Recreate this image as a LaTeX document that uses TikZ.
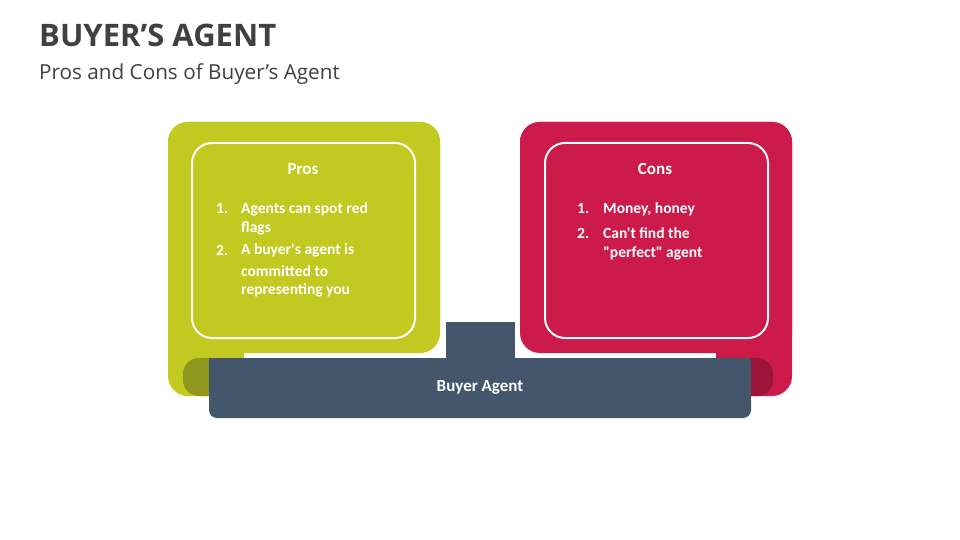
\documentclass[tikz,border=0pt]{standalone}
\usepackage{fontspec}
\setmainfont{Carlito}[Ligatures=TeXOff]
\newfontfamily\titlefont{Open Sans}
\definecolor{grn}{HTML}{C2C921}
\definecolor{dgrn}{HTML}{8F961C}
\definecolor{rd}{HTML}{CC1A4A}
\definecolor{drd}{HTML}{9A1539}
\definecolor{slate}{HTML}{44566B}
\definecolor{ttl}{HTML}{404040}
\begin{document}
\begin{tikzpicture}[x=1pt,y=-1pt,
  lbl/.style={anchor=west,inner sep=0pt,text=white,font=\bfseries\fontsize{15.5}{18}\selectfont},
  hd/.style={text=white,font=\bfseries\fontsize{17}{20}\selectfont},
  inner/.style={draw=white,line width=2pt,rounded corners=20pt}]
\useasboundingbox (0,0) rectangle (960,540);
\node[anchor=west,inner sep=0pt,text=ttl,font=\titlefont\bfseries\fontsize{31}{36}\selectfont] (t) at (39,35) {BUYER’S AGENT};
\node[anchor=west,inner sep=0pt,text=ttl,font=\titlefont\fontsize{20.7}{24}\selectfont] (st) at (39,74) {Pros and Cons of Buyer’s Agent};
% boxes
\fill[grn,rounded corners=20pt] (168,122) rectangle (440,396);
\fill[rd,rounded corners=20pt] (520,122) rectangle (792,396);
\fill[dgrn,rounded corners=16pt] (183,358) rectangle (240,396);
\fill[drd,rounded corners=16pt] (720,358) rectangle (773,396);
% white outline
\fill[white] (244,352) rectangle (716,360);
\fill[white] (420,330) rectangle (541,360);
\fill[white,rounded corners=5pt] (441,317) rectangle (520,340);
\fill[grn,rounded corners=20pt] (168,122) rectangle (440,353);
\fill[rd,rounded corners=20pt] (520,122) rectangle (792,353);
\fill[grn] (168,330) rectangle (244,358);
\fill[rd] (716,330) rectangle (792,358);
\draw[inner] (192,143) rectangle (415,338);
\draw[inner] (545,143) rectangle (768,338);
% slate
\fill[slate,rounded corners=8pt] (209,358) rectangle (751,418);
\fill[slate] (209,358) rectangle (751,380);
\fill[slate] (446,322) rectangle (515,370);
\node[hd] (ba) at (480,387) {Buyer Agent};
% pros
\node[hd] (ph) at (303,169) {Pros};
\node[lbl] (p1n) at (216,209) {1.};
\node[lbl] (p1a) at (241,209) {Agents can spot red};
\node[lbl] (p1b) at (241,228) {flags};
\node[lbl] (p2n) at (216,250) {2.};
\node[lbl] (p2a) at (241,250) {A buyer's agent is};
\node[lbl] (p2b) at (241,271) {committed to};
\node[lbl] (p2c) at (241,290) {representing you};
% cons
\node[hd] (ch) at (655,169) {Cons};
\node[lbl] (c1n) at (577,209) {1.};
\node[lbl] (c1a) at (603,209) {Money, honey};
\node[lbl] (c2n) at (577,233) {2.};
\node[lbl] (c2a) at (603,233) {Can't find the};
\node[lbl] (c2b) at (603,253) {"perfect" agent};
\end{tikzpicture}
\end{document}
